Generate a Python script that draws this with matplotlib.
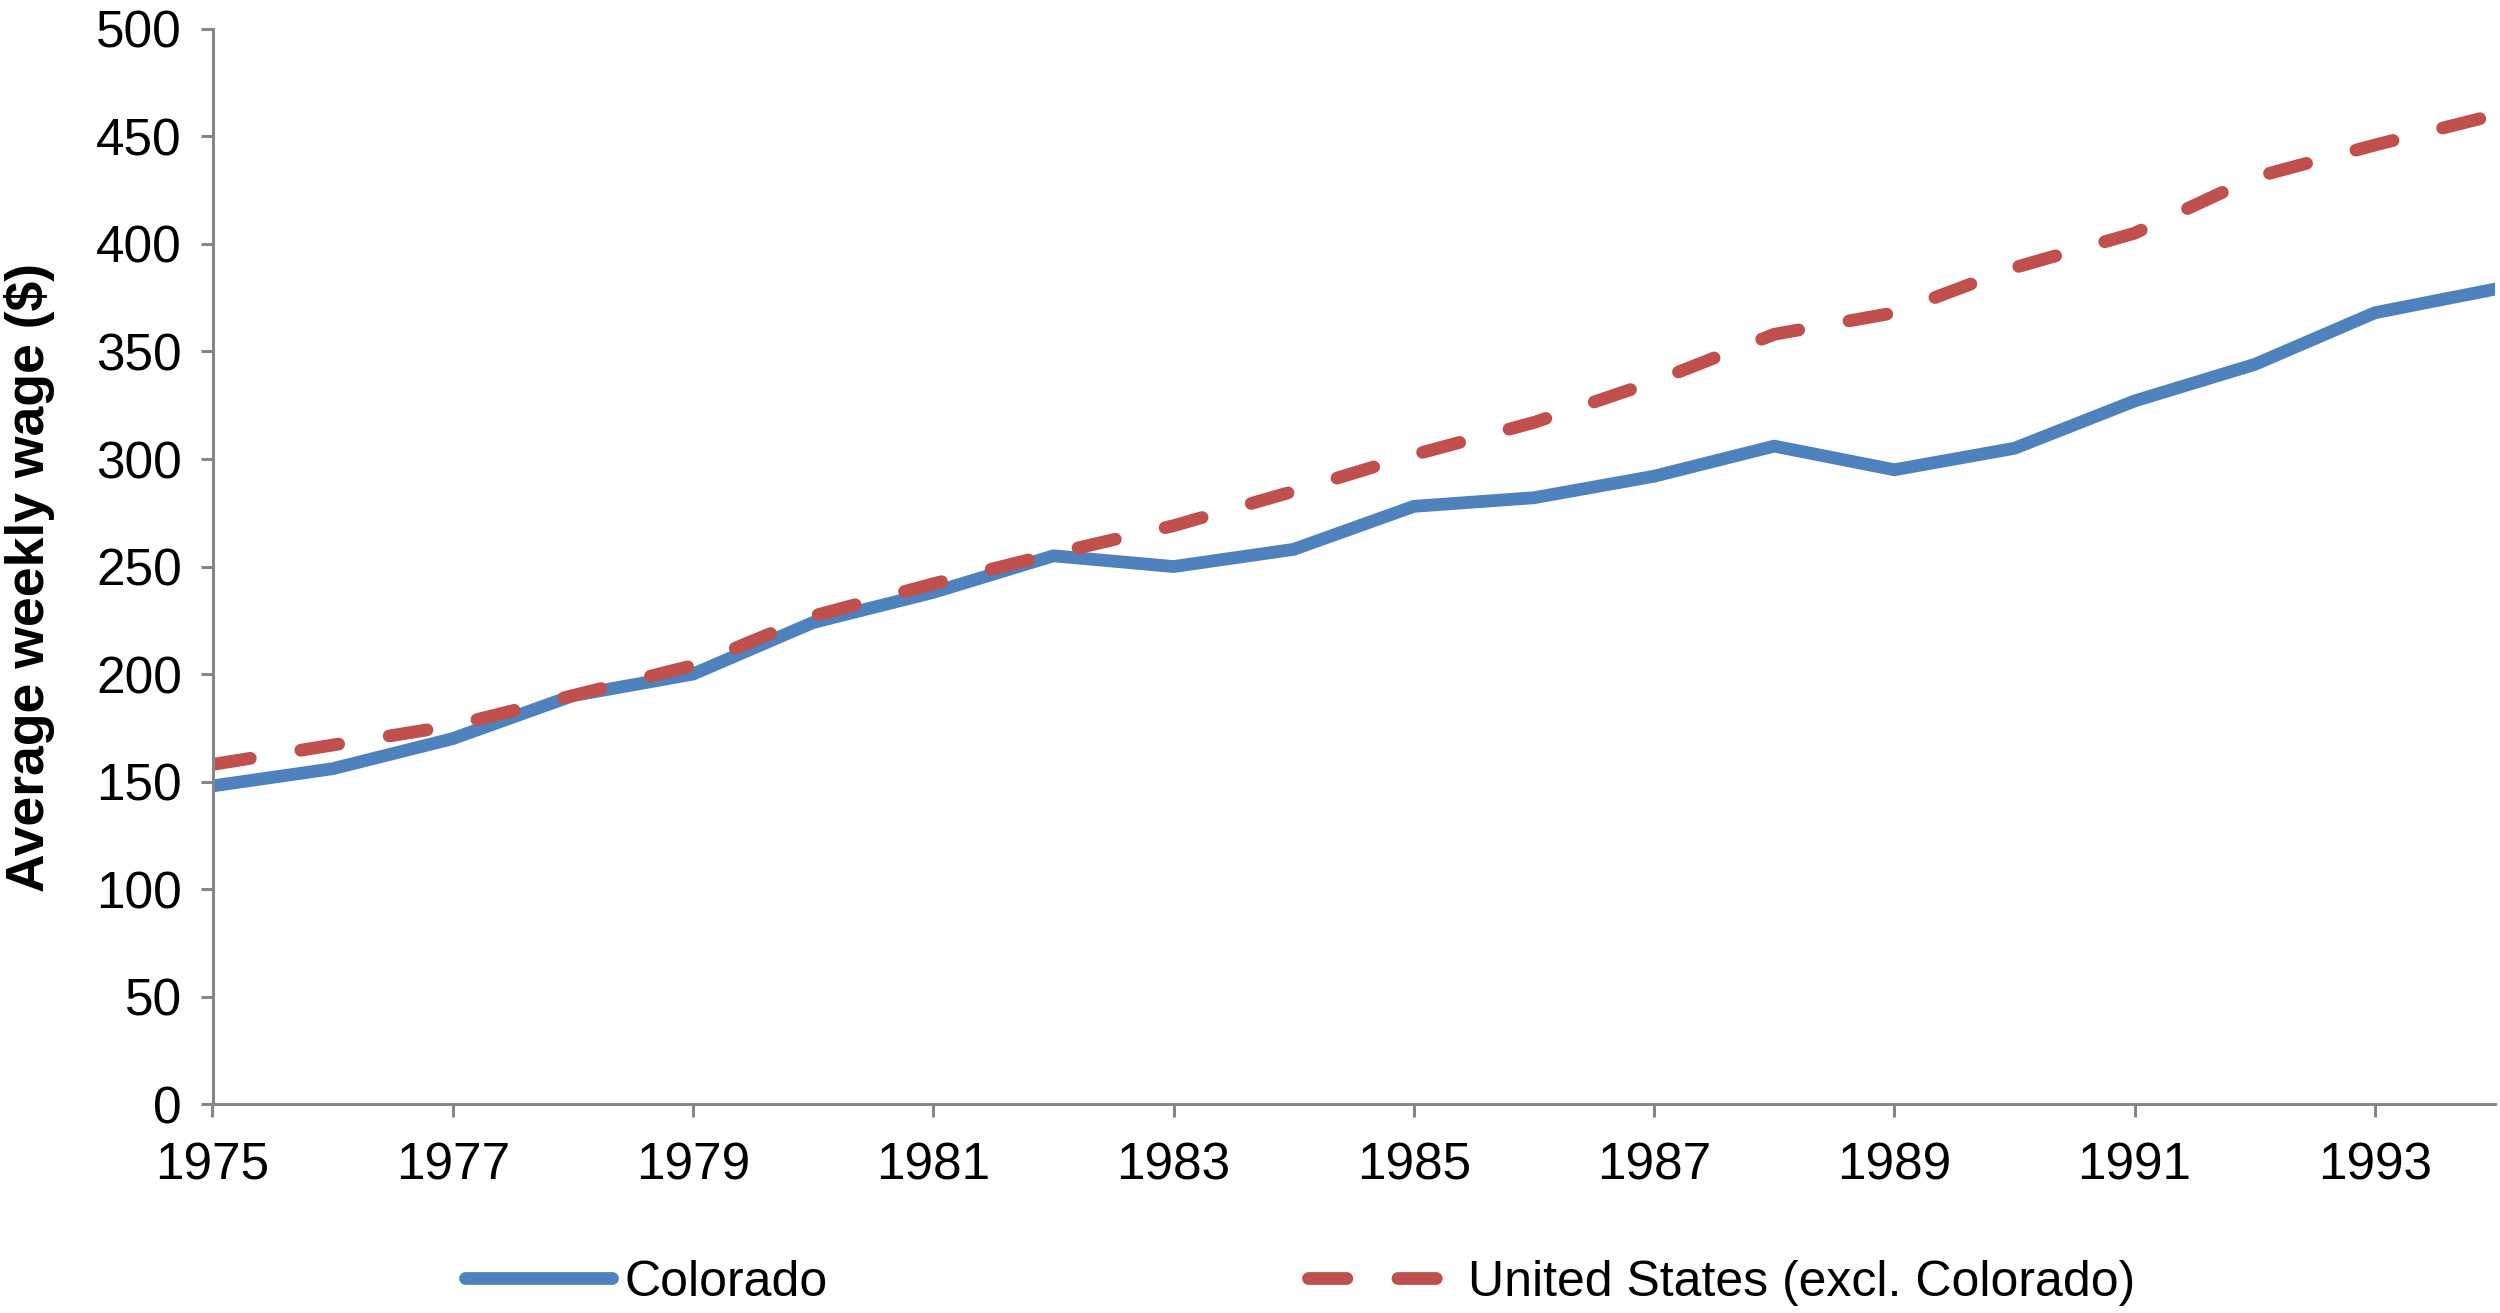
import numpy as np
import matplotlib
matplotlib.use("Agg")
import matplotlib.pyplot as plt

years = list(range(1975, 1995))
colorado = [148, 156, 170, 190, 200, 224, 238, 255, 250, 258,
            278, 282, 292, 306, 295, 305, 327, 344, 368, 379]
us_excl = [158, 167, 176, 190, 204, 227, 242, 256, 269, 285,
           302, 317, 336, 358, 368, 389, 405, 431, 446, 460]
yticks = list(range(0, 501, 50))
xticks = list(range(1975, 1994, 2))

plt.rcParams['font.family'] = ['Liberation Sans', 'DejaVu Sans']

fig = plt.figure(figsize=(25, 13.13), dpi=100)
ax = fig.add_axes([0.085, 0.159, 0.913, 0.819])

ax.plot(years, colorado, color="#4F81BD", lw=9.2, solid_joinstyle="round",
        solid_capstyle="round", label="Colorado")
ax.plot(years, us_excl, color="#C0504D", lw=9.2, dashes=(3.0, 4.0),
        dash_capstyle="round", label="United States (excl. Colorado)")

ax.set_xlim(1975, 1994)
ax.set_ylim(0, 500)
ax.set_xticks(xticks)
ax.set_yticks(yticks)
ax.tick_params(axis="both", labelsize=37, length=9, width=2.2,
               color="#868686", direction="out")
ax.tick_params(axis="y", pad=13)
ax.tick_params(axis="x", pad=18)
for s in ["top", "right"]:
    ax.spines[s].set_visible(False)
for s in ["left", "bottom"]:
    ax.spines[s].set_color("#868686")
    ax.spines[s].set_linewidth(2.2)

ax.set_ylabel("Average weekly wage ($)", fontsize=38.5, fontweight="bold")
ax.yaxis.set_label_coords(-0.069, 0.49)

fig.legend(*ax.get_legend_handles_labels(), loc="center",
           bbox_to_anchor=(0.52, 0.023), ncol=2, frameon=False, fontsize=36,
           handlelength=2.95, columnspacing=9.6, handletextpad=0.25)

fig.savefig("out.png", dpi=100, facecolor="white")
